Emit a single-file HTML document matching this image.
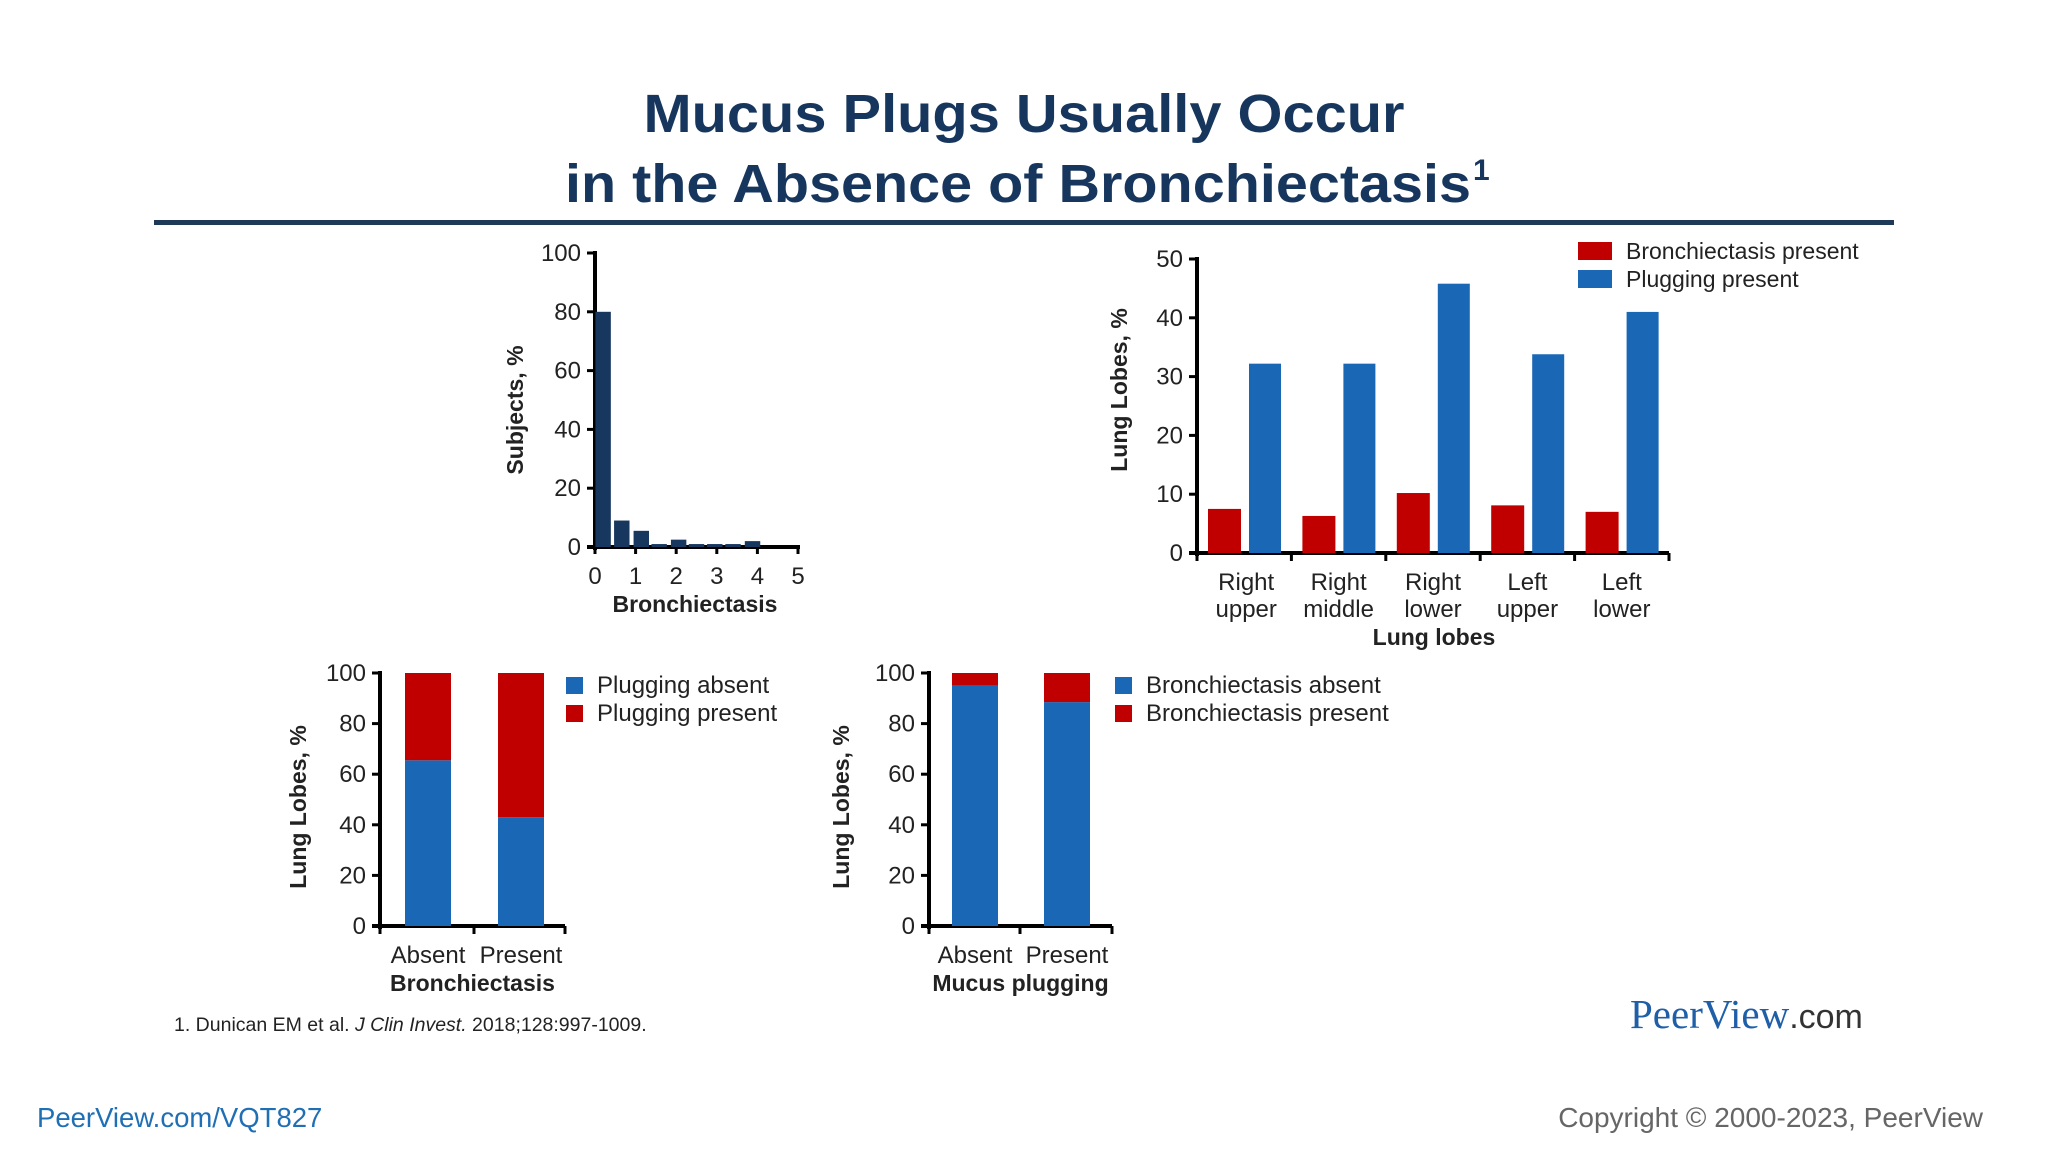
<!DOCTYPE html>
<html><head><meta charset="utf-8">
<style>
html,body{margin:0;padding:0;background:#fff;}
svg{display:block;font-family:"Liberation Sans",Arial,sans-serif;}
</style></head>
<body>
<svg id="s" width="2048" height="1152" viewBox="0 0 2048 1152" xmlns="http://www.w3.org/2000/svg">
<rect width="2048" height="1152" fill="#fff"/>
<text x="1024" y="132" text-anchor="middle" font-size="54" font-weight="bold" fill="#17365d" textLength="761" lengthAdjust="spacingAndGlyphs">Mucus Plugs Usually Occur</text>
<text x="1018" y="202" text-anchor="middle" font-size="54" font-weight="bold" fill="#17365d" textLength="906" lengthAdjust="spacingAndGlyphs">in the Absence of Bronchiectasis</text>
<text x="1473" y="180" font-size="30" font-weight="bold" fill="#17365d">1</text>
<rect x="154" y="220" width="1740" height="5" fill="#1d3a58"/>
<g id="c1"></g>
<g id="c2"></g>
<g id="c3"></g>
<g id="c4"></g>
<text x="174" y="1031" font-size="19.5" fill="#222">1. Dunican EM et al. <tspan font-style="italic">J Clin Invest.</tspan> 2018;128:997-1009.</text>
<text x="1630" y="1028" font-size="41" font-family="'Liberation Serif',serif" fill="#1f5fa8">PeerView<tspan fill="#333" font-family="'Liberation Sans',sans-serif" font-size="34">.com</tspan></text>
<text x="37" y="1127" font-size="27.5" fill="#1f6fb5">PeerView.com/VQT827</text>
<text x="1983" y="1127" text-anchor="end" font-size="28" fill="#666">Copyright © 2000-2023, PeerView</text>
</svg>
<script>
// Chart 1 data
const histX = [0.2,0.66,1.14,1.58,2.06,2.5,2.95,3.4,3.88];
const histVals = [80,9,5.5,1,2.5,1,1,1,2];
const histYTicks = [0,20,40,60,80,100];
const histXTicks = [0,1,2,3,4,5];
// Chart 2 data
const lobeCats = [["Right","upper"],["Right","middle"],["Right","lower"],["Left","upper"],["Left","lower"]];
const lobeBronch = [7.5,6.3,10.2,8.1,7];
const lobePlug = [32.2,32.2,45.8,33.8,41];
const lobeYTicks = [0,10,20,30,40,50];
// Chart 3 data
const c3Cats = ["Absent","Present"];
const c3Absent = [65.5,43];
const c3Present = [34.5,57];
// Chart 4 data
const c4Cats = ["Absent","Present"];
const c4Absent = [95,88.5];
const c4Present = [5,11.5];
const pctTicks = [0,20,40,60,80,100];

const NS="http://www.w3.org/2000/svg";
const RED="#c00000", BLUE="#1a67b5", NAVY="#17375e";
function mk(parent,tag,attrs,txt){const e=document.createElementNS(NS,tag);for(const k in attrs)e.setAttribute(k,attrs[k]);if(txt!==undefined)e.textContent=txt;parent.appendChild(e);return e;}

function axes(g,x0,xEnd,y0,yTop,ticks,ymax,tickFont){
  const ys=v=>y0-(v/ymax)*(y0-yTop);
  const ya=mk(g,'line',{x1:x0,y1:y0+3,x2:x0,y2:yTop-2,stroke:'#000','stroke-width':4});
  
  const xa=mk(g,'line',{x1:x0-8,y1:y0,x2:xEnd,y2:y0,stroke:'#000','stroke-width':4});
  
  ticks.forEach(t=>{
    mk(g,'line',{x1:x0-8,y1:ys(t),x2:x0,y2:ys(t),stroke:'#000','stroke-width':3});
    const tl=mk(g,'text',{x:x0-14,y:ys(t)+8,'text-anchor':'end','font-size':tickFont,fill:'#222'},t);
    
    
  });
  return ys;
}
function ytitle(g,x,y,txt){
  const t=mk(g,'text',{x:x,y:y,'text-anchor':'middle','font-size':23,'font-weight':'bold',fill:'#222',transform:`rotate(-90 ${x} ${y})`},txt);
  
}
function legend(g,x,y,color,txt,sz,font){
  const r=mk(g,'rect',{x:x,y:y,width:sz[0],height:sz[1],fill:color});
  
  const t=mk(g,'text',{x:x+sz[0]+14,y:y+sz[1]-1,'font-size':font,fill:'#222'},txt);
  
}

// Chart 1
(function(){
  const g=document.getElementById('c1');
  const x0=595,xEnd=800,y0=547,yTop=253,unit=40.6;
  const xs=v=>x0+v*unit;
  const ys=axes(g,x0,xEnd,y0,yTop,histYTicks,100,24);
  histXTicks.forEach(t=>{
    mk(g,'line',{x1:xs(t),y1:y0,x2:xs(t),y2:y0+7,stroke:'#000','stroke-width':3});
    const tl=mk(g,'text',{x:xs(t),y:584,'text-anchor':'middle','font-size':24,fill:'#222'},t);
    
    
  });
  histX.forEach((c,i)=>{
    const b=mk(g,'rect',{x:xs(c-0.19),y:ys(histVals[i]),width:0.38*unit,height:y0-ys(histVals[i]),fill:NAVY});
    
    
  });
  ytitle(g,523,410,'Subjects, %');
  const xt=mk(g,'text',{x:695,y:612,'text-anchor':'middle','font-size':23,'font-weight':'bold',fill:'#222'},'Bronchiectasis');
  
})();

// Chart 2
(function(){
  const g=document.getElementById('c2');
  const x0=1197,xEnd=1669,y0=553,yTop=259,cw=94.4;
  const ys=axes(g,x0,xEnd,y0,yTop,lobeYTicks,50,24);
  for(let i=0;i<=lobeCats.length;i++) mk(g,'line',{x1:x0+i*cw,y1:y0,x2:x0+i*cw,y2:y0+8,stroke:'#000','stroke-width':3});
  lobeCats.forEach((c,i)=>{
    const bx=x0+i*cw;
    const r=mk(g,'rect',{x:bx+11,y:ys(lobeBronch[i]),width:33,height:y0-ys(lobeBronch[i]),fill:RED});
    
    
    const b=mk(g,'rect',{x:bx+52,y:ys(lobePlug[i]),width:32,height:y0-ys(lobePlug[i]),fill:BLUE});
    
    
    const cx=bx+cw/2+(i==0?2:0);
    const t1=mk(g,'text',{x:cx,y:590,'text-anchor':'middle','font-size':24,fill:'#222'},c[0]);
    
    
    const t2=mk(g,'text',{x:cx,y:617,'text-anchor':'middle','font-size':24,fill:'#222'},c[1]);
    
    
  });
  ytitle(g,1127,390,'Lung Lobes, %');
  const xt=mk(g,'text',{x:1434,y:645,'text-anchor':'middle','font-size':23,'font-weight':'bold',fill:'#222'},'Lung lobes');
  
  legend(g,1578,242,RED,'Bronchiectasis present',[34,18],23);
  legend(g,1578,270,BLUE,'Plugging present',[34,18],23);
})();

function stacked(id,x0,sep,xEnd,barX,barW,cats,bottom,top,leg1,leg2,legX,xtitle,ytx){
  const g=document.getElementById(id);
  const y0=926,yTop=673;
  const ys=axes(g,x0,xEnd,y0,yTop,pctTicks,100,24);
  [x0,sep,xEnd].forEach(x=>mk(g,'line',{x1:x,y1:y0,x2:x,y2:y0+8,stroke:'#000','stroke-width':3}));
  cats.forEach((c,i)=>{
    const b=mk(g,'rect',{x:barX[i],y:ys(bottom[i]),width:barW,height:y0-ys(bottom[i]),fill:BLUE});
    
    
    const r=mk(g,'rect',{x:barX[i],y:ys(bottom[i]+top[i]),width:barW,height:ys(bottom[i])-ys(bottom[i]+top[i]),fill:RED});
    
    
    const t=mk(g,'text',{x:barX[i]+barW/2,y:963,'text-anchor':'middle','font-size':24,fill:'#222'},c);
    
    
  });
  ytitle(g,ytx,807,'Lung Lobes, %');
  const xt=mk(g,'text',{x:(x0+xEnd)/2,y:991,'text-anchor':'middle','font-size':23,'font-weight':'bold',fill:'#222'},xtitle);
  
  legend(g,legX,677,BLUE,leg1,[17,17],24);
  legend(g,legX,705,RED,leg2,[17,17],24);
}
stacked('c3',380,474,565,[405,498],46,c3Cats,c3Absent,c3Present,'Plugging absent','Plugging present',566,'Bronchiectasis',306);
stacked('c4',929,1020,1112,[952,1044],46,c4Cats,c4Absent,c4Present,'Bronchiectasis absent','Bronchiectasis present',1115,'Mucus plugging',849);
</script>
</body></html>
